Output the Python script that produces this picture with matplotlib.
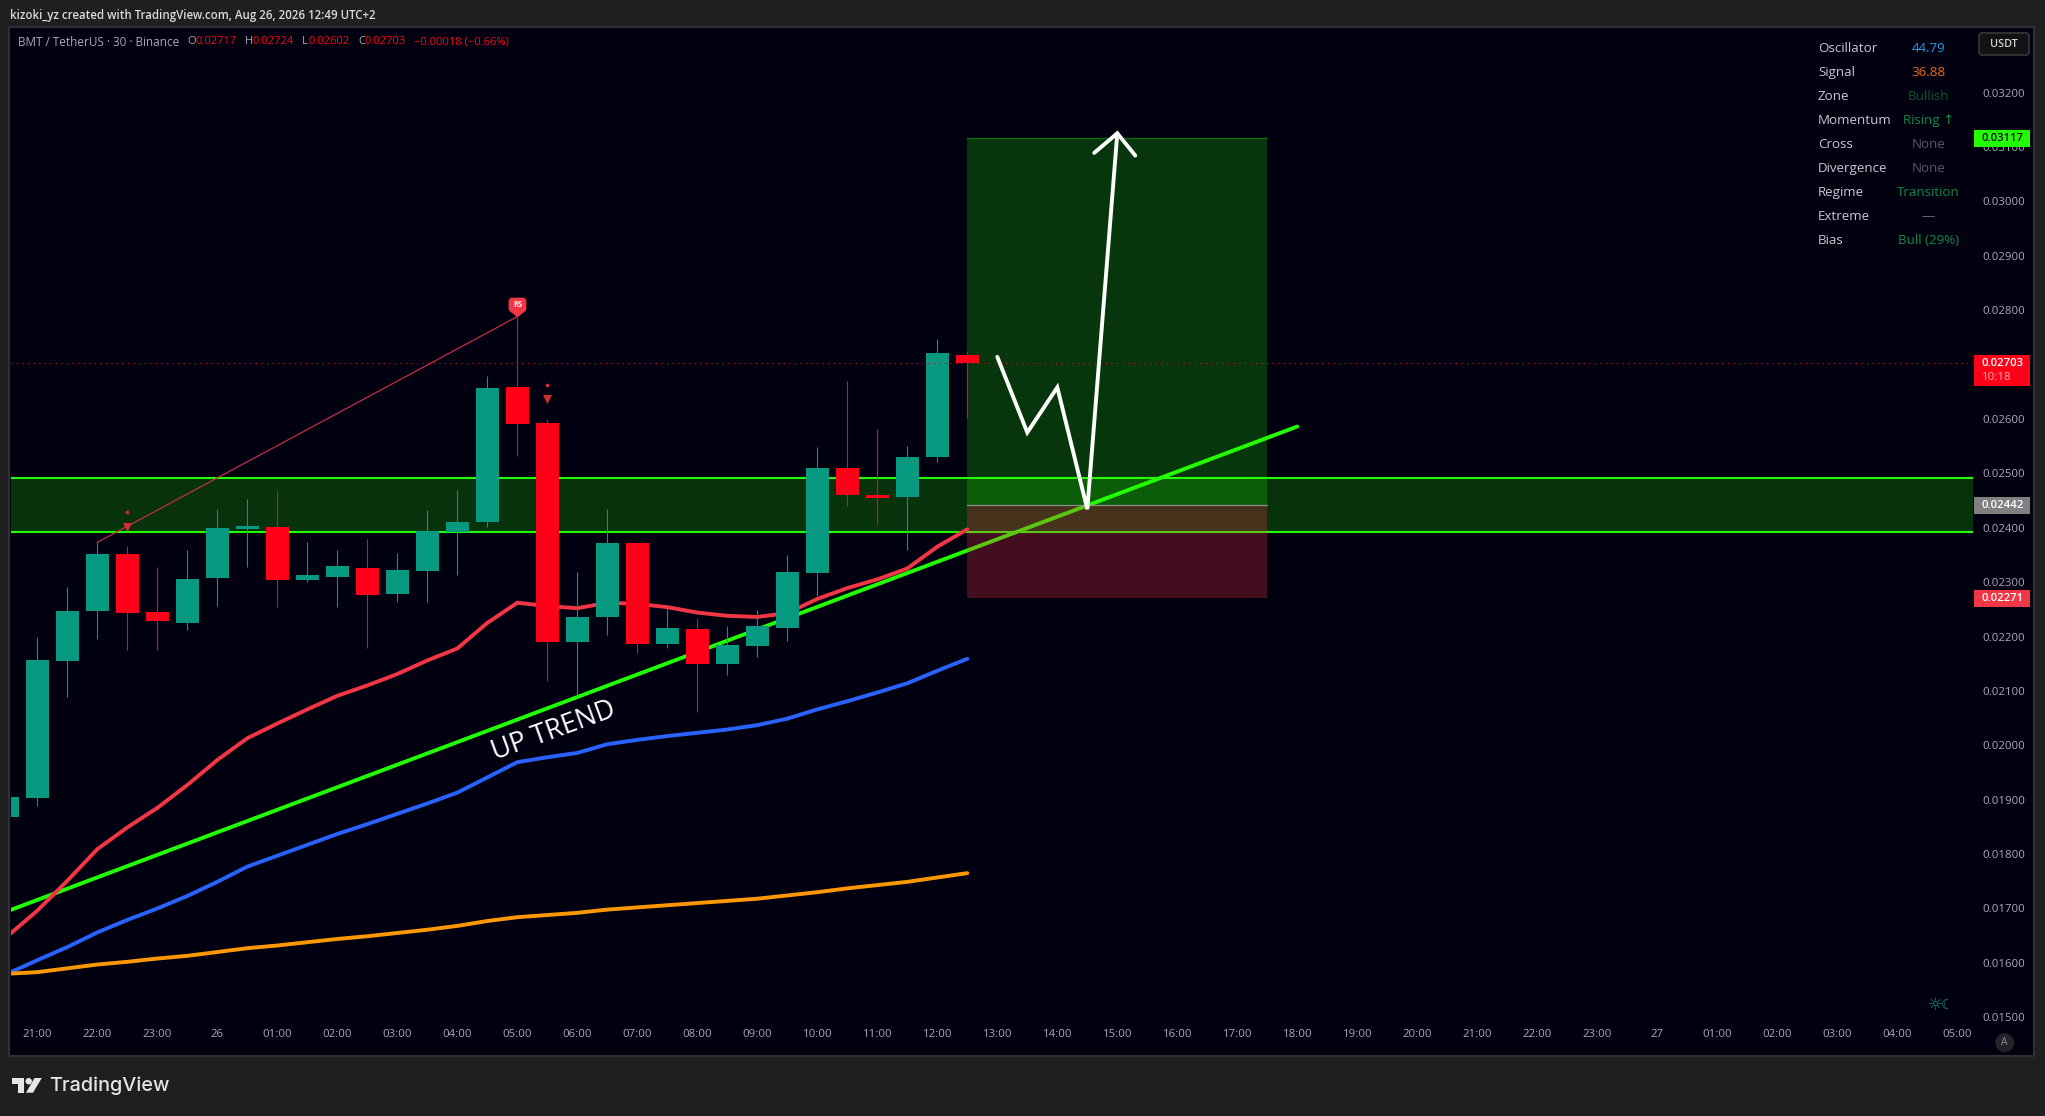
import matplotlib
matplotlib.use("Agg")
import matplotlib.pyplot as plt
from matplotlib.patches import Rectangle, FancyBboxPatch, Polygon, Circle

W, H = 2045, 1116
FONT = "Open Sans"
plt.rcParams["font.family"] = [FONT, "DejaVu Sans"]

# ---- candles, index 0 is 21:00 on the 25th, one step is 30 minutes
candle_idx = list(range(-1, 32))
opens = [.01868, .01904, .02155, .02247, .02352, .02245, .02225, .02308, .02398, .02401, .02304,
         .02309, .02326, .02278, .02320, .02392, .02410, .02659, .02592, .02190, .02236, .02372,
         .02186, .02214, .02149, .02183, .02216, .02317, .02510, .02460, .02456, .02530, .02717]
highs = [.01912, .02199, .02291, .02373, .02366, .02328, .02359, .02434, .02453, .02469, .02374,
         .02359, .02379, .02353, .02433, .02469, .02679, .02788, .02599, .02319, .02434, .02372,
         .02252, .02234, .02219, .02249, .02350, .02548, .02670, .02581, .02550, .02747, .02724]
lows = [.01860, .01889, .02088, .02195, .02175, .02175, .02212, .02256, .02328, .02254, .02300,
        .02254, .02179, .02263, .02263, .02313, .02401, .02532, .02118, .02089, .02203, .02170,
        .02179, .02061, .02129, .02162, .02192, .02274, .02440, .02405, .02359, .02521, .02602]
closes = [.01905, .02157, .02247, .02352, .02243, .02229, .02306, .02399, .02403, .02304, .02313,
          .02330, .02276, .02322, .02394, .02410, .02657, .02591, .02190, .02236, .02372, .02186,
          .02216, .02149, .02184, .02219, .02319, .02510, .02460, .02455, .02530, .02721, .02703]

# ---- moving averages
ema_red = [.01649, .01696, .01751, .01809, .01849, .01885, .01927, .01973, .02013, .02040, .02066,
           .02091, .02110, .02131, .02156, .02178, .02225, .02262, .02256, .02252, .02262, .02260,
           .02254, .02244, .02238, .02236, .02243, .02269, .02289, .02305, .02325, .02365, .02397]
ema_blue = [.01580, .01605, .01629, .01656, .01679, .01700, .01723, .01749, .01777, .01797, .01817,
            .01837, .01855, .01874, .01893, .01913, .01941, .01969, .01978, .01986, .02002, .02010,
            .02017, .02023, .02029, .02037, .02049, .02066, .02081, .02097, .02114, .02137, .02159]
ema_orange = [.01580, .01583, .01590, .01597, .01602, .01608, .01613, .01620, .01627, .01632, .01638,
              .01644, .01649, .01655, .01661, .01668, .01677, .01684, .01688, .01692, .01698, .01702,
              .01706, .01710, .01714, .01718, .01724, .01730, .01737, .01743, .01749, .01757, .01765]

# ---- drawings
trend_x = [-1, 42]
trend_y = [.01695, .02586]
zone_low, zone_high = .02393, .02492
pos_x = [31, 41]
pos_target, pos_entry, pos_stop = .03117, .02442, .02271
path_x = [32, 33, 34, 35, 36]
path_y = [.02714, .02575, .02658, .02434, .03125]
head_x = [35.23, 36, 36.6]
head_y = [.03089, .03125, .03084]
rs_x = [2, 16]
rs_y = [.02373, .02788]
signal_x = [3, 17]
signal_tri_y = [.02401, .02637]
signal_dot_y = [.02428, .02662]
last_price = .02703

# ---- axis labels
price_ticks = [.015, .016, .017, .018, .019, .020, .021, .022, .023, .024, .025, .026, .027,
               .028, .029, .030, .031, .032]
time_labels = ["21:00", "22:00", "23:00", "26"] + [f"{h:02d}:00" for h in range(1, 24)] + \
              ["27"] + [f"{h:02d}:00" for h in range(1, 6)]

# ---- status table
table_names = ["Oscillator", "Signal", "Zone", "Momentum", "Cross", "Divergence", "Regime", "Extreme", "Bias"]
table_values = ["44.79", "36.88", "Bullish", "Rising ↑", "None", "None", "Transition", "—", "Bull (29%)"]
table_colors = ["#1E9BE8", "#F2680F", "#0F5A2C", "#0E8A46", "#5A5C68", "#5A5C68", "#0E8A46", "#6E7078", "#0E8A46"]

BG = "#000010"
FIG = "#1F1F1F"
UP = "#089981"
DOWN = "#FF0018"
LIME = "#22FF00"
CORAL = "#F23645"
AXTXT = "#A9ABB3"

fig = plt.figure(figsize=(W / 100, H / 100), dpi=100, facecolor=FIG)

# chrome behind the chart
back = fig.add_axes([0, 0, 1, 1], zorder=0)
back.set_xlim(0, W); back.set_ylim(H, 0); back.axis("off")
back.add_patch(Rectangle((9.5, 27), 2025, 1029, fc=BG, ec="#2E2E33", lw=1.6))

# main pane; price = 0.024 at y 527.7 px, 54400 px per unit; candle i at 37.3 + 30 i px
L, R, T, B = 10.5, 1973, 28, 1055
ax = fig.add_axes([L / W, 1 - B / H, (R - L) / W, (B - T) / H], zorder=1)
ax.set_facecolor("none")
ax.set_xlim((L - 37.3) / 30, (R - 37.3) / 30)
ax.set_ylim(.024 + (527.7 - B) / 54400, .024 + (527.7 - T) / 54400)
for s in ax.spines.values():
    s.set_visible(False)
ax.yaxis.tick_right()
ax.set_yticks(price_ticks, [f"{p:.5f}" for p in price_ticks])
ax.set_xticks(list(range(0, 65, 2)), time_labels)
ax.tick_params(axis="y", length=0, pad=6.5, labelsize=8.2, labelcolor=AXTXT)
ax.tick_params(axis="x", length=0, pad=-19, labelsize=8.2, labelcolor=AXTXT, direction="in")

# zone
ax.axhspan(zone_low, zone_high, fc=LIME, alpha=.2, lw=0, zorder=1)
ax.axhline(zone_low, color=LIME, lw=1.5, zorder=1.1)
ax.axhline(zone_high, color=LIME, lw=1.5, zorder=1.1)

# trend line
ax.plot(trend_x, trend_y, color=LIME, lw=2.8, solid_capstyle="round", zorder=2)

# position box
ax.add_patch(Rectangle((pos_x[0], pos_entry), pos_x[1] - pos_x[0], pos_target - pos_entry,
                       fc=LIME, alpha=.21, lw=0, zorder=3))
ax.add_patch(Rectangle((pos_x[0], pos_stop), pos_x[1] - pos_x[0], pos_entry - pos_stop,
                       fc=CORAL, alpha=.28, lw=0, zorder=3))
ax.plot(pos_x, [pos_entry, pos_entry], color="#8A8A8A", lw=.9, zorder=3.1)
ax.plot(pos_x, [pos_target, pos_target], color="#0E6A12", lw=.9, zorder=3.1)

# moving averages
ax.plot(candle_idx, ema_red, color=CORAL, lw=2.8, solid_capstyle="round", solid_joinstyle="round", zorder=3.5)
ax.plot(candle_idx, ema_blue, color="#2962FF", lw=2.8, solid_capstyle="round", solid_joinstyle="round", zorder=3.5)
ax.plot(candle_idx, ema_orange, color="#FF9800", lw=2.8, solid_capstyle="round", solid_joinstyle="round", zorder=3.5)

# divergence line and signals
ax.plot(rs_x, rs_y, color="#C22F45", lw=.9, zorder=3.6)
ax.scatter(signal_x, signal_tri_y, marker="v", s=42, color="#D32F2F", lw=0, zorder=3.7)
ax.scatter(signal_x, signal_dot_y, marker="o", s=7, color="#D32F2F", lw=0, zorder=3.7)

# candles
colors = [UP if c >= o else DOWN for o, c in zip(opens, closes)]
ax.vlines(candle_idx, lows, highs, colors=colors, lw=.8, zorder=4)
ax.bar(candle_idx, [abs(c - o) for o, c in zip(opens, closes)], bottom=[min(o, c) for o, c in zip(opens, closes)],
       width=.767, color=colors, lw=0, zorder=4.1)

# last price and hand-drawn path
ax.axhline(last_price, color=DOWN, lw=.8, ls=(0, (1, 4)), zorder=4.5)
ax.plot(path_x, path_y, color="white", lw=2.8, solid_capstyle="round", solid_joinstyle="miter", zorder=5)
ax.plot(head_x, head_y, color="white", lw=2.8, solid_capstyle="round", solid_joinstyle="miter", zorder=5)

ax.text(17.2, .02026, "UP TREND", color="white", fontsize=19.5, rotation=20, ha="center", va="center",
        rotation_mode="anchor", zorder=5)

# overlay for the labels that sit on top
ov = fig.add_axes([0, 0, 1, 1], zorder=2)
ov.set_xlim(0, W); ov.set_ylim(H, 0); ov.axis("off"); ov.patch.set_alpha(0)

ov.text(10, 15, "kizoki_yz created with TradingView.com, Aug 26, 2026 12:49 UTC+2", color="#DADADA",
        fontsize=8.3, va="center", ha="left", fontweight="semibold")
ov.text(18, 42, "BMT / TetherUS · 30 · Binance", color="#A9ABB3", fontsize=8.5, va="center")
for x, s, col in [(187, "O", "#A9ABB3"), (195.5, "0.02717", DOWN), (244.6, "H", "#A9ABB3"), (252.7, "0.02724", DOWN),
                  (302, "L", "#A9ABB3"), (308.5, "0.02602", DOWN), (358, "C", "#A9ABB3"), (364.7, "0.02703", DOWN),
                  (414, "−0.00018 (−0.66%)", DOWN)]:
    ov.text(x, 42, s, color=col, fontsize=8.0, va="center")

# RS tag
ov.add_patch(FancyBboxPatch((510, 299), 15, 12, boxstyle="round,pad=0,rounding_size=2.5", fc=CORAL, ec=CORAL, lw=2))
ov.add_patch(Polygon([[511, 312], [524, 312], [517.5, 317.5]], fc=CORAL, ec="none"))
ov.text(517.5, 304.5, "RS", color="#FFE8EA", fontsize=5.5, ha="center", va="center", fontweight="bold")

# status table
for k, (n, v, c) in enumerate(zip(table_names, table_values, table_colors)):
    y = 48.3 + 24 * k
    ov.text(1818, y, n, color="#C9CAD0", fontsize=9.6, va="center", ha="left")
    ov.text(1928.3, y, v, color=c, fontsize=9.6, va="center", ha="center")

# currency button
ov.add_patch(FancyBboxPatch((1979, 33), 50, 22, boxstyle="round,pad=0,rounding_size=3", fc="#121212", ec="#38383C", lw=1.2))
ov.text(2003.5, 44.5, "USDT", color="#D0D0D5", fontsize=7.8, ha="center", va="center", fontweight="semibold")

# price tags
def tag(y0, y1, txt, fc, tc="white", yt=None):
    ov.add_patch(Rectangle((1974, y0), 56, y1 - y0, fc=fc, ec="none"))
    ov.text(1982, (y0 + y1) / 2 if yt is None else yt, txt, color=tc, fontsize=8.2, va="center", ha="left",
            fontweight="semibold")

tag(130, 146.7, "0.03117", LIME, "#0A0A0A")
tag(355, 385.7, "0.02703", DOWN, yt=363.5)
ov.text(1982, 377.7, "10:18", color="#FFB0B8", fontsize=8.2, va="center", ha="left")
tag(497, 513.7, "0.02442", "#808080")
tag(590, 606.7, "0.02271", CORAL)

# sun and moon icon
ov.text(1935, 1005, "☼", color=UP, fontsize=12, ha="center", va="center", family="DejaVu Sans")
ov.text(1947, 1005, "☾", color=UP, fontsize=10, ha="center", va="center", family="DejaVu Sans")

# auto button
ov.add_patch(Circle((2004.7, 1042.7), 9.5, fc="#232328", ec="none"))
ov.text(2004.7, 1042.7, "A", color="#8A8C94", fontsize=7.5, ha="center", va="center")

# TradingView logo
ov.add_patch(Polygon([[12, 1078], [24.5, 1078], [24.5, 1092.7], [18.3, 1092.7], [18.3, 1084.3], [12, 1084.3]], fc="#E6E6E6", ec="none"))
ov.add_patch(Circle((28.7, 1081.2), 3.2, fc="#E6E6E6", ec="none"))
ov.add_patch(Polygon([[34.5, 1078], [41.8, 1078], [33, 1092.7], [26, 1092.7]], fc="#E6E6E6", ec="none"))
ov.text(49, 1086, "TradingView", color="#E6E6E6", fontsize=14.3, va="center", ha="left", family="Inter", fontweight="medium")

fig.savefig("out.png", dpi=100, facecolor=FIG)
